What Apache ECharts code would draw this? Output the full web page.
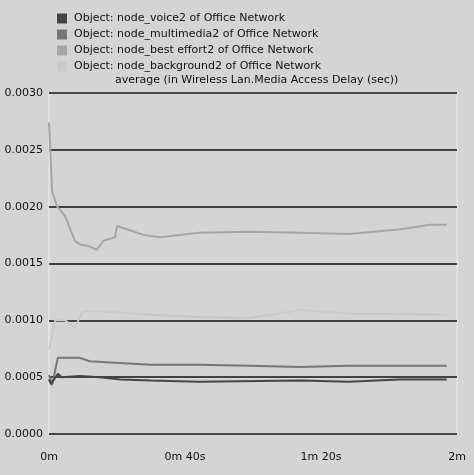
<!DOCTYPE html>
<html><head><meta charset="utf-8">
<script src="https://cdn.jsdelivr.net/npm/echarts@6/dist/echarts.min.js"></script>
<style>html,body{margin:0;padding:0;background:#d4d4d4}#c{width:474px;height:475px}</style>
</head><body><div id="c"></div>
<script>
const seriesNames = ['Object: node_voice2 of Office Network','Object: node_multimedia2 of Office Network','Object: node_best effort2 of Office Network','Object: node_background2 of Office Network'];
const xTickLabels = {0:'0m',40:'0m 40s',80:'1m 20s',120:'2m'};
const voice = [[0,0.00048],[0.6,0.00044],[2.6,0.00053],[3.8,0.00050],[9,0.00051],[15,0.00050],[21,0.00048],[30,0.00047],[44,0.00046],[74,0.00047],[88,0.00046],[103,0.00048],[117,0.00048]];
const multimedia = [[0,0.00052],[0.9,0.00043],[2.6,0.00067],[9,0.00067],[12,0.00064],[18,0.00063],[30,0.00061],[44,0.00061],[59,0.00060],[74,0.00059],[88,0.00060],[103,0.00060],[117,0.00060]];
const bestEffort = [[0,0.00274],[0.4,0.0025],[0.9,0.00214],[2.4,0.0020],[4.7,0.00192],[7.6,0.0017],[9,0.00167],[12,0.00165],[14,0.00162],[16,0.0017],[19.4,0.00173],[20,0.00183],[24,0.00179],[28,0.00175],[32.6,0.00173],[44,0.00177],[59,0.00178],[74,0.00177],[88,0.00176],[103,0.00180],[112,0.00184],[117,0.00184]];
const background = [[0,0.00074],[1.8,0.00100],[4.7,0.00100],[7.6,0.00094],[10,0.00108],[15,0.00108],[30,0.00105],[44,0.00103],[59,0.00102],[74,0.00109],[88,0.00106],[117,0.00105]];
const colors = ['#444444','#777777','#a6a6a6','#c9c9c9'];
const data = [voice, multimedia, bestEffort, background];
const chart = echarts.init(document.getElementById('c'));
chart.setOption({
  backgroundColor:'#d4d4d4',
  animation:false,
  color:colors,
  title:{text:'average (in Wireless Lan.Media Access Delay (sec))',left:110,top:70,textStyle:{fontSize:11,fontWeight:'normal',color:'#111',fontFamily:'DejaVu Sans'}},
  legend:{orient:'vertical',left:52,top:8,itemGap:5,itemWidth:10,itemHeight:10,icon:'rect',
    textStyle:{fontSize:11,color:'#111',fontFamily:'DejaVu Sans',padding:[0,0,0,2]},data:seriesNames},
  grid:{left:49,right:17,top:93,bottom:41,show:true,borderColor:'#eeeeee',borderWidth:1},
  xAxis:{type:'value',min:0,max:120,interval:40,
    axisLine:{show:false},axisTick:{show:false},splitLine:{show:false},
    axisLabel:{fontSize:11,color:'#111',fontFamily:'DejaVu Sans',margin:18,formatter:v=>xTickLabels[v]||''}},
  yAxis:{type:'value',min:0,max:0.003,interval:0.0005,
    axisLine:{show:false},axisTick:{show:false},
    splitLine:{lineStyle:{color:'#111',width:1.5}},
    axisLabel:{fontSize:11,color:'#111',fontFamily:'DejaVu Sans',margin:6,formatter:v=>v.toFixed(4)}},
  series:data.map((d,i)=>({name:seriesNames[i],type:'line',data:d,symbol:'none',lineStyle:{width:2,color:colors[i]},z:10-i}))
});
</script></body></html>
